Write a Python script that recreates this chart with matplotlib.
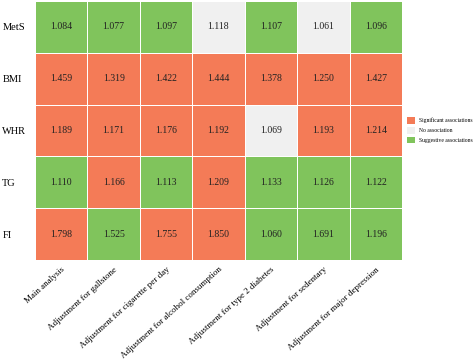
import numpy as np
import matplotlib
matplotlib.use('Agg')
import matplotlib.pyplot as plt
from matplotlib.colors import ListedColormap
from matplotlib.patches import Patch

rows = ['MetS', 'BMI', 'WHR', 'TG', 'FI']
cols = ['Main analysis', 'Adjustment for gallstone', 'Adjustment for cigarette per day',
        'Adjustment for alcohol consumption', 'Adjustment for type 2 diabetes',
        'Adjustment for sedentary', 'Adjustment for major depression']

values = [[1.084, 1.077, 1.097, 1.118, 1.107, 1.061, 1.096],
          [1.459, 1.319, 1.422, 1.444, 1.378, 1.250, 1.427],
          [1.189, 1.171, 1.176, 1.192, 1.069, 1.193, 1.214],
          [1.110, 1.166, 1.113, 1.209, 1.133, 1.126, 1.122],
          [1.798, 1.525, 1.755, 1.850, 1.060, 1.691, 1.196]]

# 0 = significant, 1 = no association, 2 = suggestive
status = [[2, 2, 2, 1, 2, 1, 2],
          [0, 0, 0, 0, 0, 0, 0],
          [0, 0, 0, 0, 1, 0, 0],
          [2, 0, 2, 0, 2, 2, 2],
          [0, 2, 0, 0, 2, 2, 2]]

legend_labels = ['Significant associations', 'No association', 'Suggestive associations']
colors = ['#F47B57', '#F0F0F0', '#80C45C']

plt.rcParams['font.family'] = ['Liberation Serif', 'DejaVu Serif']

fig = plt.figure(figsize=(4.74, 3.62), dpi=100)
ax = fig.add_axes([35/474, 1-260/362, 367/474, 259/362])

cmap = ListedColormap(colors)
ax.pcolormesh(np.array(status), cmap=cmap, vmin=-0.5, vmax=2.5,
              edgecolors='white', linewidth=0.7)
ax.set_xlim(0, len(cols))
ax.set_ylim(len(rows), 0)

for i in range(len(rows)):
    for j in range(len(cols)):
        ax.text(j + 0.5, i + 0.5, '%.3f' % values[i][j], ha='center', va='center',
                fontsize=7, color='#222222')

ax.set_xticks(np.arange(len(cols)) + 0.5)
ax.set_xticklabels(cols, rotation=42, ha='right', rotation_mode='anchor', fontsize=6.5)
ax.set_yticks(np.arange(len(rows)) + 0.5)
ax.set_yticklabels(rows, fontsize=7.5)
ax.tick_params(length=0, pad=4)
ax.tick_params(axis='y', pad=23.5)
for lab in ax.get_yticklabels():
    lab.set_horizontalalignment('left')
for s in ax.spines.values():
    s.set_visible(False)

handles = [Patch(facecolor=c, edgecolor='none') for c in colors]
fig.legend(handles, legend_labels, loc='upper left', bbox_to_anchor=(405/474, 1-115/362),
           frameon=False, fontsize=4.1, handlelength=1.4, handleheight=1.4,
           handletextpad=0.6, labelspacing=0.55, borderaxespad=0)

fig.savefig('out.png', dpi=100)
